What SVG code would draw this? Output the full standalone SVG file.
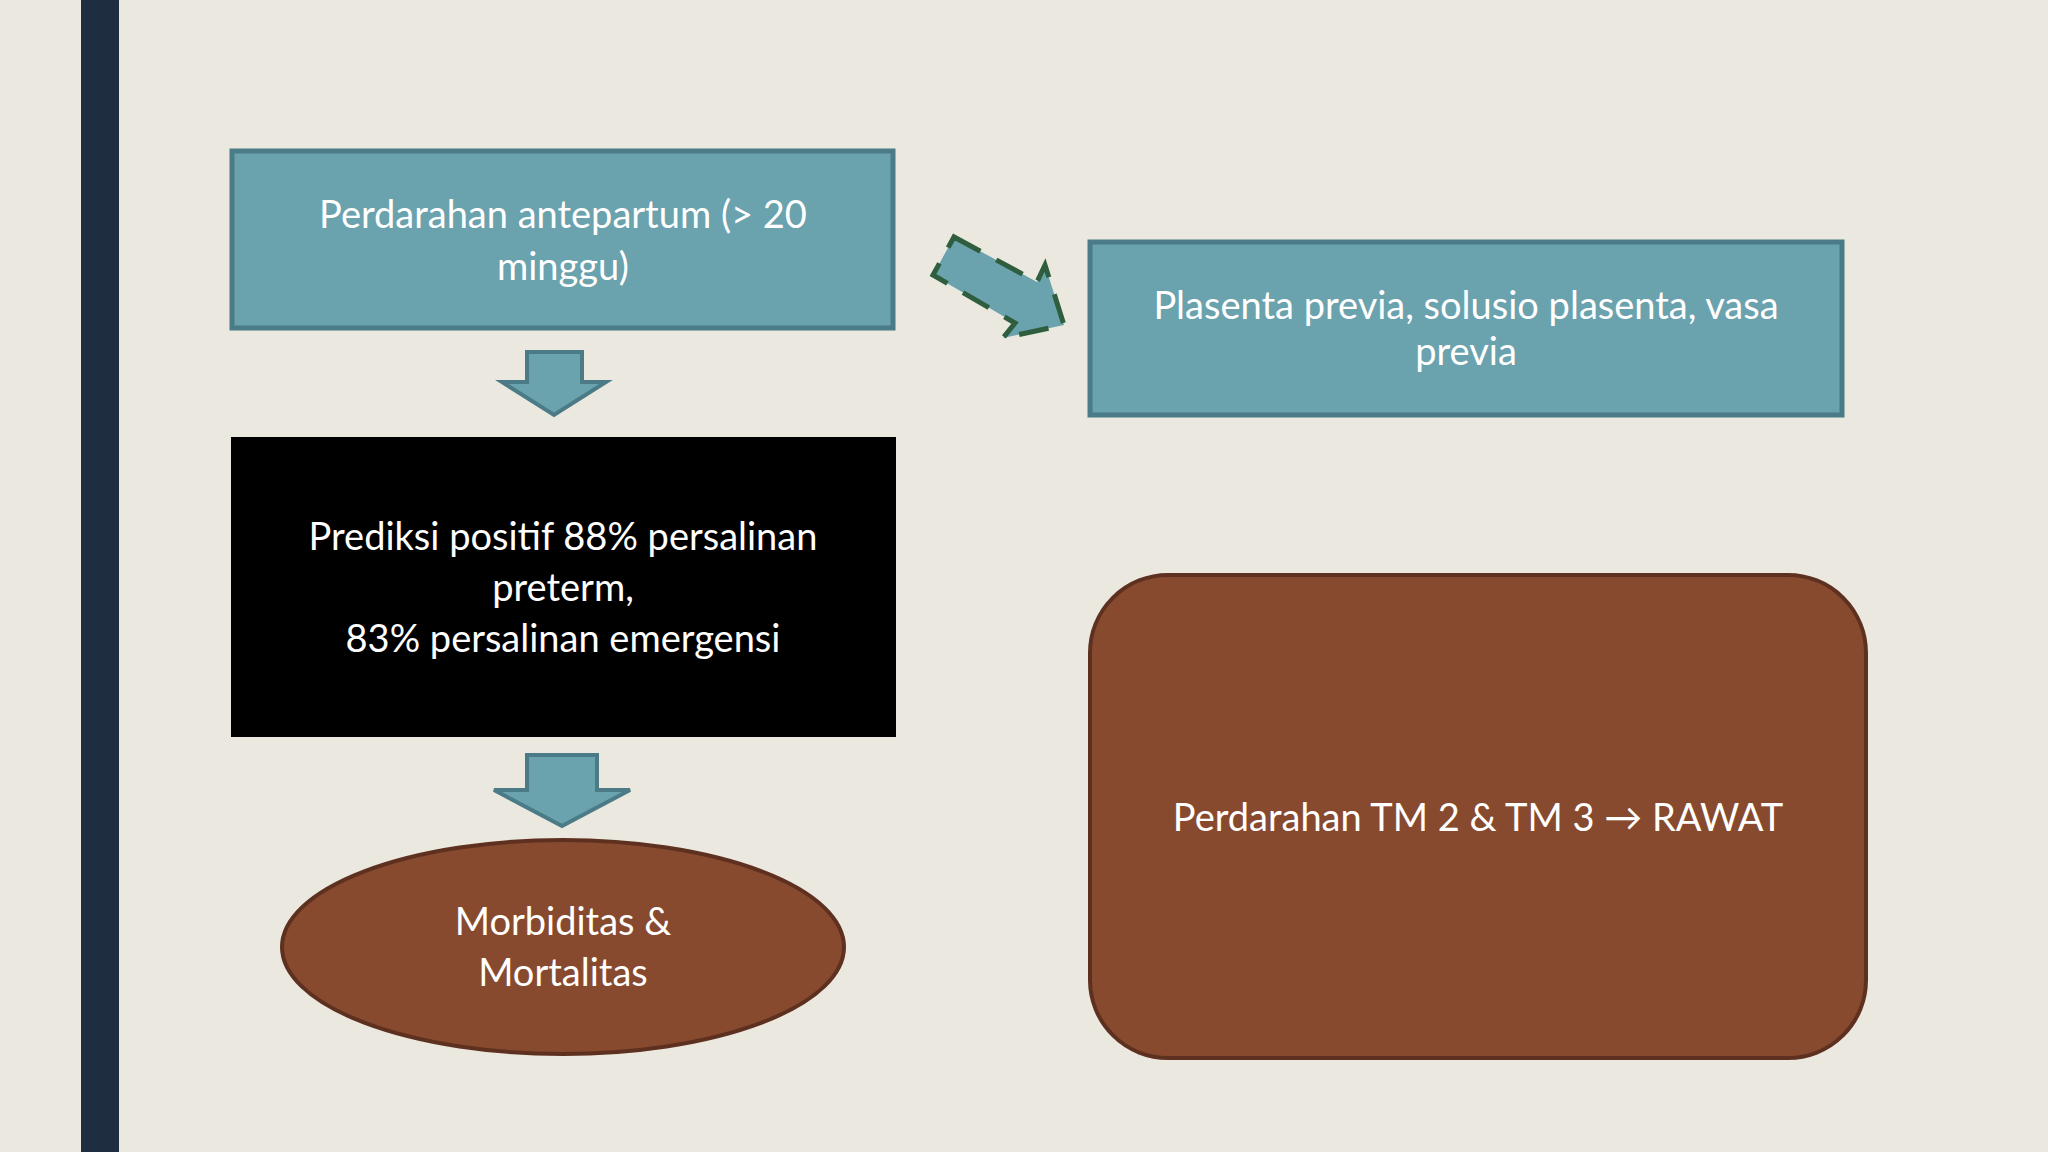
<svg xmlns="http://www.w3.org/2000/svg" width="2048" height="1152" viewBox="0 0 2048 1152">
<style>
.t{font-family:Lato,"Open Sans",sans-serif;font-size:38px;fill:#fff;text-anchor:middle}
.teal{fill:#6aa2ae;stroke:#4a7b86;stroke-width:5}
.brown{fill:#874a2e;stroke:#5e3020;stroke-width:4}
.arr{fill:#6aa2ae;stroke:#4a7b86;stroke-width:4;stroke-linejoin:miter}
</style>
<rect width="2048" height="1152" fill="#ebe8df"/>
<rect x="81" y="0" width="38" height="1152" fill="#1e2d3f"/>
<g id="n1"><rect class="teal" x="232" y="151" width="661" height="177"/>
<text class="t" x="563" y="228">Perdarahan antepartum (&gt; 20</text>
<text class="t" x="563" y="280">minggu)</text></g>
<g id="n2"><rect x="231" y="437" width="665" height="300" fill="#000"/>
<text class="t" x="563" y="550">Prediksi positif 88% persalinan</text>
<text class="t" x="563" y="601">preterm,</text>
<text class="t" x="563" y="652">83% persalinan emergensi</text></g>
<g id="n3"><ellipse class="brown" cx="563" cy="947" rx="281" ry="107"/>
<text class="t" x="563" y="935">Morbiditas &amp;</text>
<text class="t" x="563" y="986">Mortalitas</text></g>
<g id="n4"><rect class="teal" x="1090" y="242" width="752" height="173"/>
<text class="t" x="1466" y="319">Plasenta previa, solusio plasenta, vasa</text>
<text class="t" x="1466" y="365">previa</text></g>
<g id="n5"><rect class="brown" x="1090" y="575" width="776" height="483" rx="78"/>
<text class="t" x="1478" y="831">Perdarahan TM 2 &amp; TM 3 → RAWAT</text></g>
<g id="connectors">
<polygon class="arr" points="527,352 582,352 582,382 606,382 554,415 502,382 527,382"/>
<polygon class="arr" points="527,755 597,755 597,790 630,790 562,826 494,790 527,790"/>
<polygon points="954,237 1037,282 1045,265 1064,325 1003,338 1015,323 933,275" fill="#6aa2ae" stroke="#2f5e3e" stroke-width="5" stroke-dasharray="30,18"/>
</g>
</svg>
